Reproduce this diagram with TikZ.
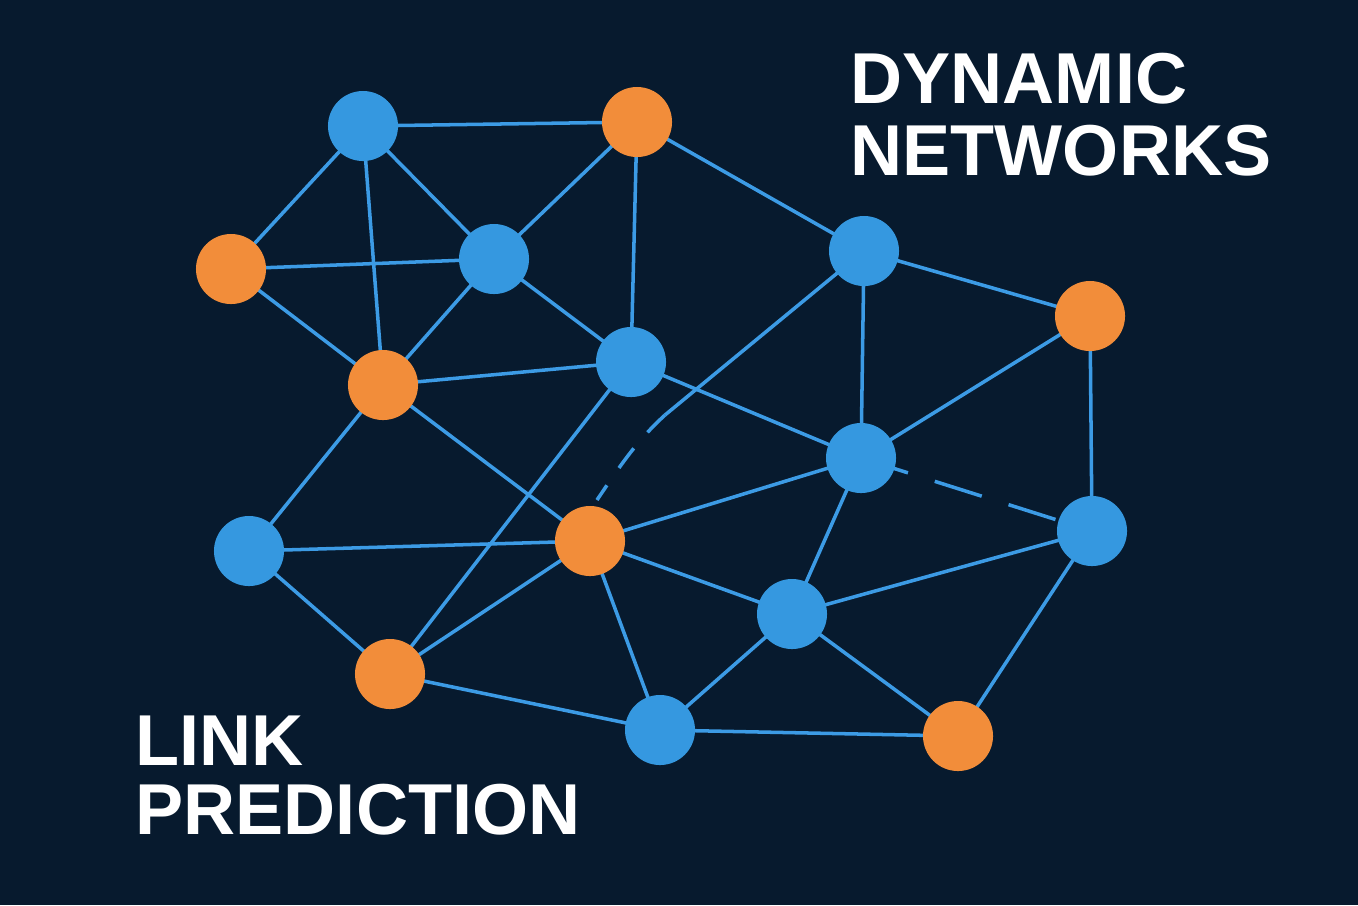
\documentclass[tikz,border=0pt]{standalone}
\usepackage{fontspec}
\setmainfont{Liberation Sans}
\begin{document}
\begin{tikzpicture}[x=0.01cm,y=-0.01cm,
 bn/.style={circle,fill=nblue,minimum size=0.7cm,inner sep=0pt},
 on/.style={circle,fill=norange,minimum size=0.7cm,inner sep=0pt},
 ed/.style={draw=eblue,line width=1pt},
 lab/.style={text=white,font=\bfseries\fontsize{20.5pt}{25pt}\selectfont,anchor=base west,inner sep=0pt}]
\definecolor{bg}{HTML}{071A2E}
\definecolor{nblue}{HTML}{3598E0}
\definecolor{norange}{HTML}{F28D3A}
\definecolor{eblue}{HTML}{3C9BE5}
\fill[bg] (0,0) rectangle (1358,905);
\useasboundingbox (0,0) rectangle (1358,905);
\coordinate (A) at (363,126); \coordinate (B) at (637,122);
\coordinate (C) at (231,269); \coordinate (D) at (494,259);
\coordinate (E) at (864,251); \coordinate (F) at (1090,316);
\coordinate (G) at (383,385); \coordinate (H) at (631,362);
\coordinate (I) at (861,458); \coordinate (J) at (249,551);
\coordinate (K) at (590,541); \coordinate (L) at (1092,531);
\coordinate (M) at (792,614); \coordinate (N) at (390,674);
\coordinate (O) at (660,730); \coordinate (P) at (958,736);
\coordinate (cv1) at (665,415); \coordinate (cv2) at (597,500);
\foreach \a/\b in {A/B,A/C,A/D,A/G,C/D,C/G,D/B,D/G,D/H,B/H,B/E,E/F,E/I,G/H,G/J,G/K,H/I,H/N,I/F,I/K,I/M,F/L,J/K,J/N,K/N,K/M,K/O,M/L,M/O,M/P,N/O,O/P,P/L}
  \draw[ed] (\a) -- (\b);
\draw[ed,dash pattern=on 14pt off 8pt] (I) -- (L);
\draw[ed] (E) -- (cv1);
\draw[ed,dash pattern=on 7pt off 6pt] (cv1) .. controls (640,438) and (625,458) .. (cv2);
\foreach \n in {A,D,E,H,I,J,L,M,O} \node[bn] (n\n) at (\n) {};
\foreach \n in {B,C,F,G,K,N,P} \node[on] (n\n) at (\n) {};
\node[lab] (t1) at (850,103) {DYNAMIC};
\node[lab] (t2) at (850,175) {NETWORKS};
\node[lab] (t3) at (135,765) {LINK};
\node[lab] (t4) at (135,834) {PREDICTION};
\end{tikzpicture}
\end{document}
